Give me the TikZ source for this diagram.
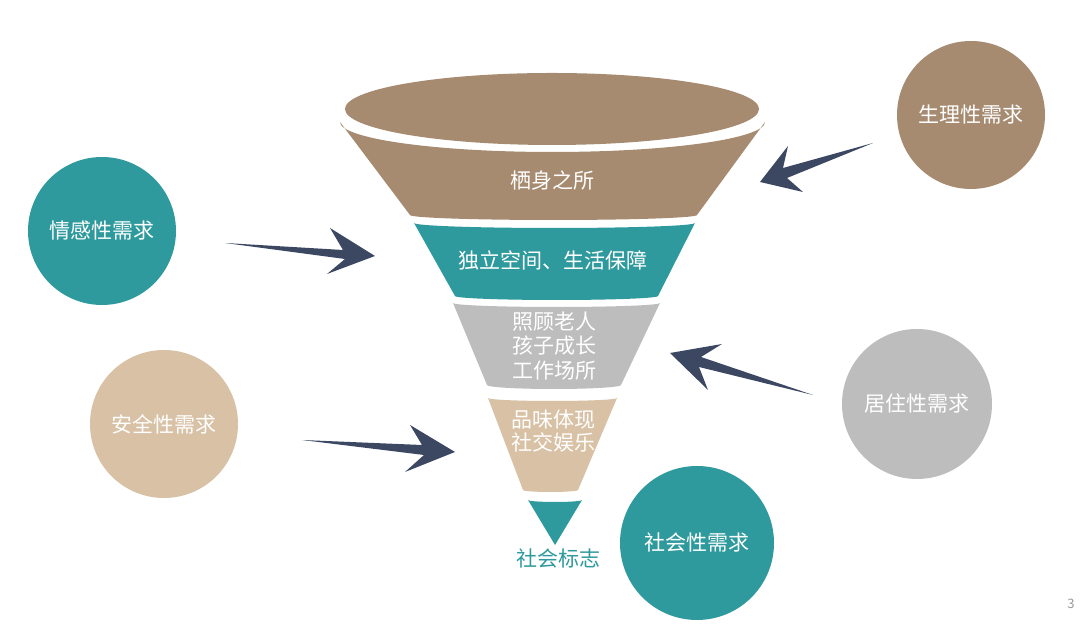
\documentclass[tikz,border=0pt]{standalone}
\usepackage{fontspec}
\setmainfont{Noto Sans CJK SC}
\definecolor{cbrown}{HTML}{A68B70}
\definecolor{cteal}{HTML}{2F9A9D}
\definecolor{cgray}{HTML}{BDBDBD}
\definecolor{ctan}{HTML}{D8C1A5}
\definecolor{carrow}{HTML}{3C4762}
\definecolor{cpage}{HTML}{9A9A9A}
\begin{document}
\begin{tikzpicture}[x=1pt,y=1pt,
  need/.style={circle, inner sep=0pt, minimum size=148pt, text=white, font=\fontsize{21}{24}\selectfont},
  lbl/.style={text=white, align=center, inner sep=0pt, font=\fontsize{21}{24.5}\selectfont},
  arr/.style={fill=carrow}]
\useasboundingbox (0,0) rectangle (1080,636);
\fill[white] (0,0) rectangle (1080,636);

% funnel
\fill[cbrown] (552,527) ellipse[x radius=207pt, y radius=36pt];
\fill[cbrown] (340,514) arc[start angle=180, end angle=360, x radius=212.5pt, y radius=30pt]
  -- (697,421) arc[start angle=0, end angle=-180, x radius=143.5pt, y radius=5pt] -- cycle;
\fill[cteal] (414,413) arc[start angle=180, end angle=360, x radius=140.5pt, y radius=5pt]
  -- (658,340) arc[start angle=0, end angle=-180, x radius=101.5pt, y radius=4pt] -- cycle;
\fill[cgray] (453,333) arc[start angle=180, end angle=360, x radius=103.5pt, y radius=4pt]
  -- (621,251) arc[start angle=0, end angle=-180, x radius=67pt, y radius=4pt] -- cycle;
\fill[ctan] (488,238) arc[start angle=180, end angle=360, x radius=64.5pt, y radius=3pt]
  -- (578,146) arc[start angle=0, end angle=-180, x radius=27.5pt, y radius=2pt] -- cycle;
\fill[cteal] (528,136) arc[start angle=180, end angle=360, x radius=27pt, y radius=2pt]
  -- (555,91) -- cycle;

% funnel labels
\node[lbl] (t1) at (552,455) {栖身之所};
\node[lbl] (t2) at (553,376) {独立空间、生活保障};
\node[lbl] (t3) at (554,290) {照顾老人\\孩子成长\\工作场所};
\node[lbl, font=\fontsize{21}{23}\selectfont] (t4) at (553,205) {品味体现\\社交娱乐};
\node[lbl, text=cteal] (t5) at (558,78) {社会标志};

% need circles
\node[need, fill=cbrown] (n1) at (971,521) {生理性需求};
\node[need, fill=cteal] (n2) at (102,405) {情感性需求};
\node[need, fill=cgray, minimum size=150pt] (n3) at (917,232) {居住性需求};
\node[need, fill=ctan] (n4) at (164,212) {安全性需求};
\node[need, fill=cteal, minimum size=154pt] (n5) at (697,93) {社会性需求};

% arrows
\fill[arr] (225,393) -- (343,386) -- (330,408) -- (375,380) -- (327,362) -- (345,377) -- cycle;
\fill[arr] (302,196) -- (422,191) -- (410,211) -- (455,184) -- (405,164) -- (424,181) -- cycle;
\fill[arr] (873,493) -- (783,468) -- (788,490) -- (760,454) -- (803,444) -- (787,458) -- cycle;
\fill[arr] (813,241) -- (701,279) -- (722,292) -- (670,283) -- (708,246) -- (699,269) -- cycle;

% page number
\node[text=cpage, font=\fontsize{13}{15}\selectfont] (pg) at (1071,32) {3};
\end{tikzpicture}
\end{document}
